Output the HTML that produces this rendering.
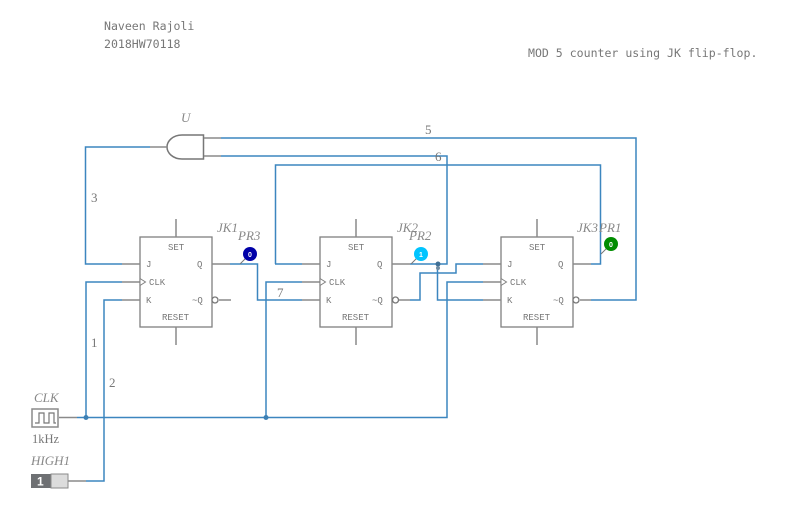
<!DOCTYPE html>
<html>
<head>
<meta charset="utf-8">
<style>
html,body{margin:0;padding:0;background:#fff;width:808px;height:510px;overflow:hidden}
svg{display:block}
.w{fill:none;stroke:#3c86bf;stroke-width:1.5}
.g{fill:none;stroke:#8a8a8a;stroke-width:1.5}
.b{fill:#fff;stroke:#808080;stroke-width:1.3}
.m{font-family:"DejaVu Sans Mono","Liberation Mono",monospace;font-size:11.55px;fill:#777}
.s{font-family:"Liberation Mono",monospace;font-size:9px;fill:#777}
.l{font-family:"Liberation Serif",serif;font-style:italic;font-size:13px;fill:#888}
.n{font-family:"Liberation Serif",serif;font-size:13px;fill:#777}
.p{font-family:"Liberation Sans",sans-serif;font-size:7px;font-weight:bold;fill:#fff;text-anchor:middle}
</style>
</head>
<body>
<svg width="808" height="510" viewBox="0 0 808 510" xmlns="http://www.w3.org/2000/svg">
<text class="m" x="104" y="30">Naveen Rajoli</text>
<text class="m" x="104" y="48">2018HW70118</text>
<text class="m" x="528" y="57">MOD 5 counter using JK flip-flop.</text>

<!-- wires -->
<path class="w" d="M150 147H85.500V264H122"/>
<path class="w" d="M221 138H636V300H591"/>
<path class="w" d="M221 156H447V264H410"/>
<path class="w" d="M437.500 264V300H483"/>
<path class="w" d="M410 300H420V273H456V264H483"/>
<path class="w" d="M275.500 264V165H600.500V264H591"/>
<path class="w" d="M302 264H275"/>
<path class="w" d="M230 264H257.500V300H302"/>
<path class="w" d="M77 417.500H447V282H483"/>
<path class="w" d="M86 417.500V282H122"/>
<path class="w" d="M266 417.500V282H302"/>
<path class="w" d="M86 481H104V300H122"/>
<circle cx="86" cy="417.500" r="2.500" fill="#3d80b5"/>
<circle cx="266" cy="417.500" r="2.500" fill="#3d80b5"/>
<circle cx="438" cy="264" r="2.500" fill="#3f6f95"/>
<circle cx="438" cy="268" r="2" fill="#6d8ba3"/>

<!-- JK1 -->
<g>
<rect class="b" x="140" y="237" width="72" height="90"/>
<path class="g" d="M176 219V237M176 327V345M122 264H140M122 282H140M122 300H140M212 264H230M219 300H231"/>
<path d="M140 278.500L145.500 282L140 285.500Z" fill="#fff" stroke="#808080" stroke-width="1"/>
<circle cx="215" cy="300" r="3" fill="#fff" stroke="#777" stroke-width="1.300"/>
<text class="s" x="168" y="250">SET</text>
<text class="s" x="146" y="267">J</text>
<text class="s" x="149" y="285">CLK</text>
<text class="s" x="146" y="303">K</text>
<text class="s" x="197" y="267">Q</text>
<text class="s" x="192" y="303">~Q</text>
<text class="s" x="162" y="320">RESET</text>
</g>
<!-- JK2 -->
<g>
<rect class="b" x="320" y="237" width="72" height="90"/>
<path class="g" d="M356 219V237M356 327V345M302 264H320M302 282H320M302 300H320M392 264H410M399 300H410"/>
<path d="M320 278.500L325.500 282L320 285.500Z" fill="#fff" stroke="#808080" stroke-width="1"/>
<circle cx="395.500" cy="300" r="3" fill="#fff" stroke="#777" stroke-width="1.300"/>
<text class="s" x="348" y="250">SET</text>
<text class="s" x="326" y="267">J</text>
<text class="s" x="329" y="285">CLK</text>
<text class="s" x="326" y="303">K</text>
<text class="s" x="377" y="267">Q</text>
<text class="s" x="372" y="303">~Q</text>
<text class="s" x="342" y="320">RESET</text>
</g>
<!-- JK3 -->
<g>
<rect class="b" x="501" y="237" width="72" height="90"/>
<path class="g" d="M537 219V237M537 327V345M483 264H501M483 282H501M483 300H501M573 264H591M580 300H591"/>
<path d="M501 278.500L506.500 282L501 285.500Z" fill="#fff" stroke="#808080" stroke-width="1"/>
<circle cx="576" cy="300" r="3" fill="#fff" stroke="#777" stroke-width="1.300"/>
<text class="s" x="529" y="250">SET</text>
<text class="s" x="507" y="267">J</text>
<text class="s" x="510" y="285">CLK</text>
<text class="s" x="507" y="303">K</text>
<text class="s" x="558" y="267">Q</text>
<text class="s" x="553" y="303">~Q</text>
<text class="s" x="523" y="320">RESET</text>
</g>

<!-- AND gate -->
<path d="M203.500 135H182C173 135 167 141 167 147C167 153 173 159 182 159H203.500Z" fill="#fff" stroke="#777" stroke-width="1.500"/>
<path class="g" d="M150 147H167M204 138H221M204 156H221"/>

<!-- CLK source -->
<rect x="32" y="409" width="26" height="18" fill="#fff" stroke="#8a8a8a" stroke-width="1.500"/>
<path d="M35 423H39V413H44V423H49V413H54V423H56" fill="none" stroke="#777" stroke-width="1.200"/>
<path class="g" d="M59 417.500H77"/>

<!-- HIGH -->
<rect x="31" y="474" width="20" height="14" fill="#6e7073"/>
<rect x="51" y="474" width="17" height="14" fill="#dcdcdc" stroke="#8a8a8a" stroke-width="1"/>
<text x="37" y="485.500" font-family="Liberation Sans,sans-serif" font-size="12" font-weight="bold" fill="#fff">1</text>
<path class="g" d="M68 481H86"/>

<!-- probes -->
<path d="M240 264L246 258M411 264L417 258M601 254L607 248" stroke="#777" stroke-width="1" fill="none"/>
<circle cx="250" cy="254" r="7" fill="#0000a8"/>
<text class="p" x="250" y="257">0</text>
<circle cx="421" cy="254" r="7" fill="#00c4ff"/>
<text class="p" x="421" y="257">1</text>
<circle cx="611" cy="244" r="7" fill="#008c00"/>
<text class="p" x="611" y="247">0</text>

<!-- labels -->
<text class="l" x="181" y="122">U</text>
<text class="l" x="217" y="232">JK1</text>
<text class="l" x="238" y="240">PR3</text>
<text class="l" x="397" y="232">JK2</text>
<text class="l" x="409" y="240">PR2</text>
<text class="l" x="577" y="232">JK3</text>
<text class="l" x="599" y="232">PR1</text>
<text class="l" x="34" y="402">CLK</text>
<text class="l" x="31" y="465">HIGH1</text>
<text x="32" y="443" font-family="Liberation Serif,serif" font-size="12.500" fill="#777">1kHz</text>

<text class="n" x="425" y="134">5</text>
<text class="n" x="435" y="161">6</text>
<text class="n" x="91" y="202">3</text>
<text class="n" x="91" y="347">1</text>
<text class="n" x="109" y="387">2</text>
<text class="n" x="277" y="297">7</text>
</svg>
</body>
</html>
